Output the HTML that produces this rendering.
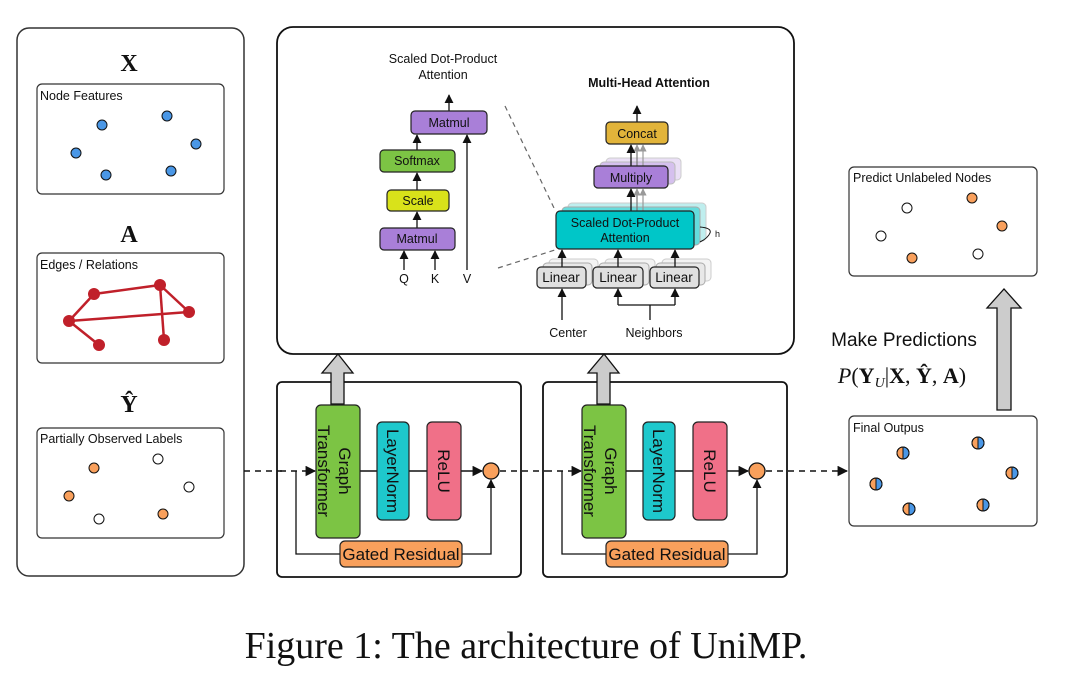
<!DOCTYPE html>
<html><head><meta charset="utf-8"><style>
body{margin:0;background:#fff}
svg{display:block}
text{font-family:"Liberation Sans",sans-serif;fill:#111}
.serif{font-family:"Liberation Serif",serif}
</style></head><body>
<svg width="1067" height="693" viewBox="0 0 1067 693" xmlns="http://www.w3.org/2000/svg">
<defs>
<marker id="ah" viewBox="0 0 10 10" refX="9" refY="5" markerWidth="7" markerHeight="7" orient="auto-start-reverse"><path d="M0,0 L10,5 L0,10 z" fill="#111"/></marker>
<marker id="ahg" viewBox="0 0 10 10" refX="9" refY="5" markerWidth="6" markerHeight="6" orient="auto"><path d="M0,0 L10,5 L0,10 z" fill="#999"/></marker>
</defs>

<!-- Left panel -->
<rect x="17" y="28" width="227" height="548" rx="12" fill="#fff" stroke="#333" stroke-width="1.5"/>
<text x="129" y="71" text-anchor="middle" class="serif" font-size="24" font-weight="bold">X</text>
<rect x="37" y="84" width="187" height="110" rx="5" fill="#fff" stroke="#333" stroke-width="1.2"/>
<text x="40" y="100" font-size="12.5">Node Features</text>
<g fill="#4a97e6" stroke="#111" stroke-width="1">
<circle cx="102" cy="125" r="5"/><circle cx="167" cy="116" r="5"/><circle cx="196" cy="144" r="5"/>
<circle cx="76" cy="153" r="5"/><circle cx="171" cy="171" r="5"/><circle cx="106" cy="175" r="5"/></g>

<text x="129" y="242" text-anchor="middle" class="serif" font-size="24" font-weight="bold">A</text>
<rect x="37" y="253" width="187" height="110" rx="5" fill="#fff" stroke="#333" stroke-width="1.2"/>
<text x="40" y="269" font-size="12.5">Edges / Relations</text>
<g stroke="#c0202a" stroke-width="2.5">
<line x1="69" y1="321" x2="94" y2="294"/><line x1="94" y1="294" x2="160" y2="285"/>
<line x1="160" y1="285" x2="189" y2="312"/><line x1="69" y1="321" x2="189" y2="312"/>
<line x1="160" y1="285" x2="164" y2="340"/><line x1="69" y1="321" x2="99" y2="345"/></g>
<g fill="#c0202a">
<circle cx="94" cy="294" r="6"/><circle cx="160" cy="285" r="6"/><circle cx="189" cy="312" r="6"/>
<circle cx="69" cy="321" r="6"/><circle cx="164" cy="340" r="6"/><circle cx="99" cy="345" r="6"/></g>

<text x="129" y="412" text-anchor="middle" class="serif" font-size="24" font-weight="bold">Ŷ</text>
<rect x="37" y="428" width="187" height="110" rx="5" fill="#fff" stroke="#333" stroke-width="1.2"/>
<text x="40" y="443" font-size="12.5">Partially Observed Labels</text>
<g stroke="#111" stroke-width="1">
<circle cx="94" cy="468" r="5" fill="#f9a05c"/><circle cx="69" cy="496" r="5" fill="#f9a05c"/><circle cx="163" cy="514" r="5" fill="#f9a05c"/>
<circle cx="158" cy="459" r="5" fill="#fff"/><circle cx="189" cy="487" r="5" fill="#fff"/><circle cx="99" cy="519" r="5" fill="#fff"/></g>

<!-- Top panel -->
<rect x="277" y="27" width="517" height="327" rx="16" fill="#fff" stroke="#111" stroke-width="1.8"/>
<text x="443" y="63" text-anchor="middle" font-size="12.5">Scaled Dot-Product</text>
<text x="443" y="79" text-anchor="middle" font-size="12.5">Attention</text>
<g stroke="#111" stroke-width="1.3" marker-end="url(#ah)">
<line x1="449" y1="111" x2="449" y2="95"/>
<line x1="417" y1="150" x2="417" y2="135"/>
<line x1="417" y1="190" x2="417" y2="173"/>
<line x1="417" y1="228" x2="417" y2="212"/>
<line x1="404" y1="270" x2="404" y2="251"/>
<line x1="435" y1="270" x2="435" y2="251"/>
<line x1="467" y1="270" x2="467" y2="135"/>
</g>
<rect x="411" y="111" width="76" height="23" rx="4" fill="#a97fd8" stroke="#222" stroke-width="1.2"/>
<text x="449" y="127" text-anchor="middle" font-size="12.5">Matmul</text>
<rect x="380" y="150" width="75" height="22" rx="4" fill="#7cc444" stroke="#222" stroke-width="1.2"/>
<text x="417" y="165" text-anchor="middle" font-size="12.5">Softmax</text>
<rect x="387" y="190" width="62" height="21" rx="4" fill="#d9e21a" stroke="#222" stroke-width="1.2"/>
<text x="418" y="205" text-anchor="middle" font-size="12.5">Scale</text>
<rect x="380" y="228" width="75" height="22" rx="4" fill="#a97fd8" stroke="#222" stroke-width="1.2"/>
<text x="417" y="243" text-anchor="middle" font-size="12.5">Matmul</text>
<text x="404" y="283" text-anchor="middle" font-size="12.5">Q</text>
<text x="435" y="283" text-anchor="middle" font-size="12.5">K</text>
<text x="467" y="283" text-anchor="middle" font-size="12.5">V</text>
<g stroke="#666" stroke-width="1.2" stroke-dasharray="5,4">
<line x1="505" y1="106" x2="555" y2="210"/><line x1="498" y1="268" x2="555" y2="250"/></g>

<text x="649" y="87" text-anchor="middle" font-size="12.5" font-weight="bold">Multi-Head Attention</text>
<line x1="637" y1="122" x2="637" y2="106" stroke="#111" stroke-width="1.3" marker-end="url(#ah)"/>
<rect x="606" y="122" width="62" height="22" rx="4" fill="#e2b43a" stroke="#222" stroke-width="1.2"/>
<text x="637" y="138" text-anchor="middle" font-size="12.5">Concat</text>
<rect x="606" y="158" width="75" height="22" rx="4" fill="#eadff6" stroke="#ccc" stroke-width="1"/>
<rect x="600" y="162" width="75" height="22" rx="4" fill="#d5c0ee" stroke="#bbb" stroke-width="1"/>
<g stroke-width="1.2" marker-end="url(#ahg)"><line x1="643" y1="166" x2="643" y2="145" stroke="#999"/><line x1="637" y1="166" x2="637" y2="145" stroke="#777"/></g>
<line x1="631" y1="166" x2="631" y2="145" stroke="#111" stroke-width="1.3" marker-end="url(#ah)"/>
<rect x="594" y="166" width="74" height="22" rx="4" fill="#a97fd8" stroke="#222" stroke-width="1.2"/>
<text x="631" y="182" text-anchor="middle" font-size="12.5">Multiply</text>
<rect x="568" y="203" width="138" height="38" rx="4" fill="#bfeeee" stroke="#ccc" stroke-width="1"/>
<rect x="562" y="207" width="138" height="38" rx="4" fill="#66dcdc" stroke="#aaa" stroke-width="1"/>
<g stroke-width="1.2" marker-end="url(#ahg)"><line x1="643" y1="211" x2="643" y2="189" stroke="#999"/><line x1="637" y1="211" x2="637" y2="189" stroke="#777"/></g>
<line x1="631" y1="211" x2="631" y2="189" stroke="#111" stroke-width="1.3" marker-end="url(#ah)"/>
<rect x="556" y="211" width="138" height="38" rx="4" fill="#00c6c8" stroke="#222" stroke-width="1.2"/>
<text x="625" y="227" text-anchor="middle" font-size="12.5">Scaled Dot-Product</text>
<text x="625" y="242" text-anchor="middle" font-size="12.5">Attention</text>
<path d="M700,227 Q712,228 710,233 Q708,238 700,242" fill="none" stroke="#111" stroke-width="1"/>
<text x="715" y="237" font-size="9">h</text>
<g fill="#f3f3f3" stroke="#ccc" stroke-width="1">
<rect x="549" y="259" width="49" height="22" rx="4"/><rect x="605" y="259" width="50" height="22" rx="4"/><rect x="662" y="259" width="49" height="22" rx="4"/></g>
<g fill="#e8e8e8" stroke="#aaa" stroke-width="1">
<rect x="543" y="263" width="49" height="22" rx="4"/><rect x="599" y="263" width="50" height="22" rx="4"/><rect x="656" y="263" width="49" height="22" rx="4"/></g>
<g stroke="#111" stroke-width="1.3" marker-end="url(#ah)">
<line x1="562" y1="267" x2="562" y2="250"/><line x1="618" y1="267" x2="618" y2="250"/><line x1="675" y1="267" x2="675" y2="250"/>
<line x1="562" y1="320" x2="562" y2="289"/><line x1="618" y1="305" x2="618" y2="289"/><line x1="675" y1="305" x2="675" y2="289"/></g>
<polyline points="618,305 675,305" stroke="#111" stroke-width="1.3" fill="none"/>
<line x1="650" y1="320" x2="650" y2="305" stroke="#111" stroke-width="1.3"/>
<g fill="#e0e0e0" stroke="#222" stroke-width="1.2">
<rect x="537" y="267" width="49" height="21" rx="4"/><rect x="593" y="267" width="50" height="21" rx="4"/><rect x="650" y="267" width="49" height="21" rx="4"/></g>
<text x="561" y="282" text-anchor="middle" font-size="13.5">Linear</text>
<text x="618" y="282" text-anchor="middle" font-size="13.5">Linear</text>
<text x="674" y="282" text-anchor="middle" font-size="13.5">Linear</text>
<text x="568" y="337" text-anchor="middle" font-size="12.5">Center</text>
<text x="654" y="337" text-anchor="middle" font-size="12.5">Neighbors</text>

<!-- Blocks -->
<g id="blk">
<rect x="277" y="382" width="244" height="195" rx="5" fill="#fff" stroke="#111" stroke-width="1.8"/>
<path d="M331,404 L331,373 L322,373 L338,354 L353,373 L344,373 L344,404 z" fill="#ccc" stroke="#111" stroke-width="1.3"/>
<polyline points="296,471 296,554 340,554" fill="none" stroke="#111" stroke-width="1.3"/>
<polyline points="462,554 491,554 491,480" fill="none" stroke="#111" stroke-width="1.3" marker-end="url(#ah)"/>
<line x1="280" y1="471" x2="315" y2="471" stroke="#111" stroke-width="1.5" stroke-dasharray="6,5" marker-end="url(#ah)"/>
<line x1="360" y1="471" x2="482" y2="471" stroke="#111" stroke-width="1.5" marker-end="url(#ah)"/>
<rect x="316" y="405" width="44" height="133" rx="5" fill="#7cc444" stroke="#222" stroke-width="1.2"/>
<text transform="translate(339,471) rotate(90)" text-anchor="middle" font-size="17">Graph</text>
<text transform="translate(318,471) rotate(90)" text-anchor="middle" font-size="17">Transformer</text>
<rect x="377" y="422" width="32" height="98" rx="5" fill="#1ec8cc" stroke="#222" stroke-width="1.2"/>
<text transform="translate(387,471) rotate(90)" text-anchor="middle" font-size="17">LayerNorm</text>
<rect x="427" y="422" width="34" height="98" rx="5" fill="#f07088" stroke="#222" stroke-width="1.2"/>
<text transform="translate(438,471) rotate(90)" text-anchor="middle" font-size="17">ReLU</text>
<circle cx="491" cy="471" r="8" fill="#f9a05c" stroke="#111" stroke-width="1.3"/>
<rect x="340" y="541" width="122" height="26" rx="5" fill="#f9a05c" stroke="#222" stroke-width="1.2"/>
<text x="401" y="560" text-anchor="middle" font-size="17">Gated Residual</text>
</g>
<use href="#blk" x="266"/>
<line x1="244" y1="471" x2="282" y2="471" stroke="#111" stroke-width="1.5" stroke-dasharray="6,5"/>
<line x1="500" y1="471" x2="546" y2="471" stroke="#111" stroke-width="1.5" stroke-dasharray="6,5"/>
<line x1="766" y1="471" x2="847" y2="471" stroke="#111" stroke-width="1.5" stroke-dasharray="6,5" marker-end="url(#ah)"/>

<!-- Right -->
<rect x="849" y="167" width="188" height="109" rx="5" fill="#fff" stroke="#333" stroke-width="1.2"/>
<text x="853" y="182" font-size="12.5">Predict Unlabeled Nodes</text>
<g stroke="#111" stroke-width="1">
<circle cx="907" cy="208" r="5" fill="#fff"/><circle cx="881" cy="236" r="5" fill="#fff"/><circle cx="978" cy="254" r="5" fill="#fff"/>
<circle cx="972" cy="198" r="5" fill="#f9a05c"/><circle cx="1002" cy="226" r="5" fill="#f9a05c"/><circle cx="912" cy="258" r="5" fill="#f9a05c"/></g>
<path d="M997,410 L997,308 L987,308 L1004,289 L1021,308 L1011,308 L1011,410 z" fill="#ccc" stroke="#111" stroke-width="1.3"/>
<text x="904" y="346" text-anchor="middle" font-size="19">Make Predictions</text>
<text x="902" y="383" text-anchor="middle" class="serif" font-size="22"><tspan font-style="italic">P</tspan>(<tspan font-weight="bold">Y</tspan><tspan font-style="italic" font-size="14" dy="4">U</tspan><tspan dy="-4">|</tspan><tspan font-weight="bold">X</tspan>, <tspan font-weight="bold">Ŷ</tspan>, <tspan font-weight="bold">A</tspan>)</text>
<rect x="849" y="416" width="188" height="110" rx="5" fill="#fff" stroke="#333" stroke-width="1.2"/>
<text x="853" y="432" font-size="12.5">Final Outpus</text>
<g stroke="#111" stroke-width="1">
<g transform="translate(903,453)"><path d="M0,-6 A6,6 0 0 0 0,6 z" fill="#f9a05c"/><path d="M0,-6 A6,6 0 0 1 0,6 z" fill="#4a97e6"/><circle r="6" fill="none"/></g>
<g transform="translate(978,443)"><path d="M0,-6 A6,6 0 0 0 0,6 z" fill="#f9a05c"/><path d="M0,-6 A6,6 0 0 1 0,6 z" fill="#4a97e6"/><circle r="6" fill="none"/></g>
<g transform="translate(1012,473)"><path d="M0,-6 A6,6 0 0 0 0,6 z" fill="#f9a05c"/><path d="M0,-6 A6,6 0 0 1 0,6 z" fill="#4a97e6"/><circle r="6" fill="none"/></g>
<g transform="translate(876,484)"><path d="M0,-6 A6,6 0 0 0 0,6 z" fill="#f9a05c"/><path d="M0,-6 A6,6 0 0 1 0,6 z" fill="#4a97e6"/><circle r="6" fill="none"/></g>
<g transform="translate(909,509)"><path d="M0,-6 A6,6 0 0 0 0,6 z" fill="#f9a05c"/><path d="M0,-6 A6,6 0 0 1 0,6 z" fill="#4a97e6"/><circle r="6" fill="none"/></g>
<g transform="translate(983,505)"><path d="M0,-6 A6,6 0 0 0 0,6 z" fill="#f9a05c"/><path d="M0,-6 A6,6 0 0 1 0,6 z" fill="#4a97e6"/><circle r="6" fill="none"/></g>
</g>

<text x="526" y="658" text-anchor="middle" class="serif" font-size="38">Figure 1: The architecture of UniMP.</text>
</svg>
</body></html>
